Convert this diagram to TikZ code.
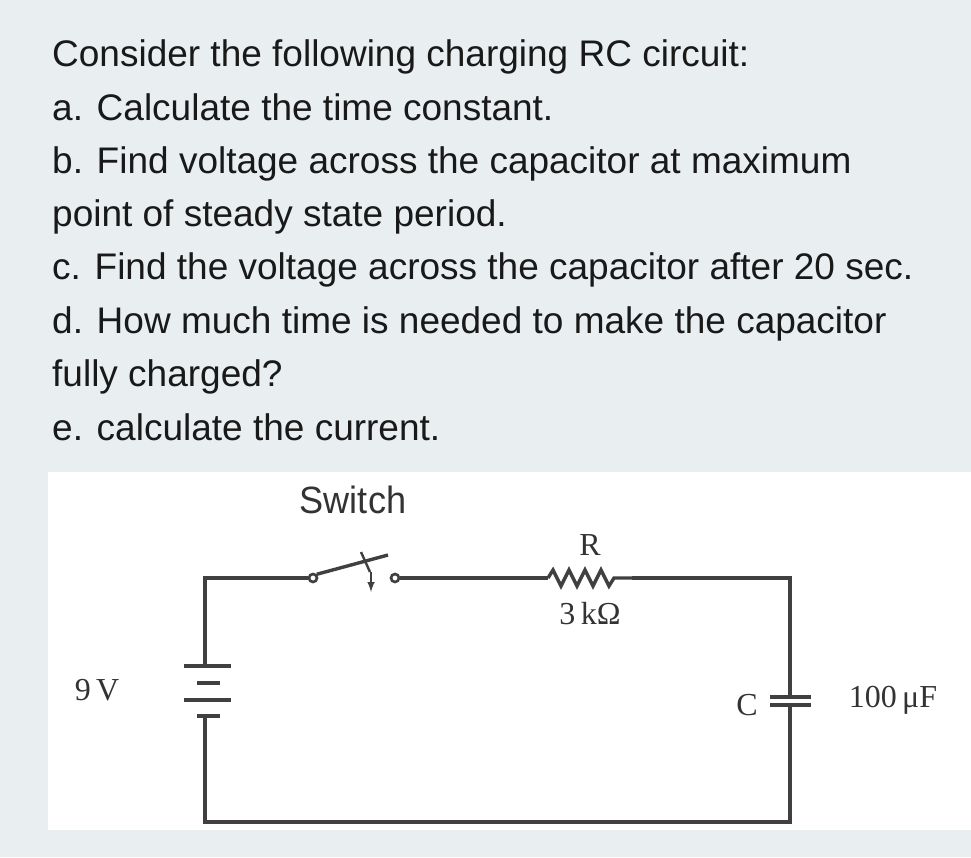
\documentclass[tikz,border=0pt]{standalone}
\usepackage{fontspec}
\setmainfont{Liberation Sans}
\newfontfamily\serifx{Liberation Serif}
\definecolor{bgc}{HTML}{E9EFF1}
\begin{document}
\begin{tikzpicture}[x=1pt,y=-1pt,
  q/.style={anchor=base west,inner sep=0,font=\fontsize{37}{37}\selectfont,text=black!90},
  w/.style={line width=3.4pt,black!75},
  lab/.style={inner sep=0,font=\serifx\fontsize{32}{32}\selectfont,text=black!80}]
\useasboundingbox (0,0) rectangle (971,857);
\fill[bgc] (0,0) rectangle (971,857);
\fill[white] (48,472) rectangle (971,830);
\node[q] (l1) at (52,66) {Consider the following charging RC circuit:};
\node[q] (l2) at (52,120) {a. Calculate the time constant.};
\node[q] (l3) at (52,173) {b. Find voltage across the capacitor at maximum};
\node[q] (l4) at (52,226) {point of steady state period.};
\node[q] (l5) at (52,279) {c. Find the voltage across the capacitor after 20 sec.};
\node[q] (l6) at (52,333) {d. How much time is needed to make the capacitor};
\node[q] (l7) at (52,386) {fully charged?};
\node[q] (l8) at (52,440) {e. calculate the current.};
% circuit
\node[inner sep=0,font=\fontsize{38}{38}\selectfont,xscale=0.95,text=black!80] (sw) at (353,500) {Switch};
\coordinate (tl) at (205,578);
\coordinate (tr) at (790,578);
\coordinate (bl) at (205,822);
\coordinate (br) at (790,822);
\node[circle,draw=black!75,line width=2.6pt,inner sep=0,minimum size=8] (s1) at (313,578) {};
\node[circle,draw=black!75,line width=2.6pt,inner sep=0,minimum size=8] (s2) at (395,578) {};
\coordinate (b1) at (205,666);
\coordinate (b4) at (205,716);
\coordinate (c1) at (790,697);
\coordinate (c2) at (790,705);
\coordinate (r1) at (548,578);
\coordinate (r2) at (632,578);
\draw[w] (b1) -- (tl) -- (s1);
\draw[w] (s2) -- (r1);
\draw[w] (r1) -- (553,570) -- (561,586) -- (569,570) -- (577,586) -- (585,570) -- (593,586) -- (601,570) -- (609,586) -- (614,578) -- (r2);
\draw[w] (r2) -- (tr) -- (c1);
\draw[w] (c2) -- (br) -- (bl) -- (b4);
\draw[w] (s1.north east) -- (388,555);
\draw[w,line width=2.4pt] (361,552) -- (370,572);
\draw[black!75,line width=2.4pt,-latex] (371,572) -- (371,592);
% battery
\draw[w] (184,666) -- (231,666);
\draw[w] (197,683) -- (220,683);
\draw[w] (184,700) -- (231,700);
\draw[w] (197,716) -- (220,716);
% capacitor
\draw[w] (770,697) -- (811,697);
\draw[w] (770,705) -- (811,705);
\node[lab] (r) at (590,545) {R};
\node[lab] (rv) at (590,614) {3\,kΩ};
\node[lab] (v) at (97,690) {9\,V};
\node[lab] (c) at (747,705) {C};
\node[lab] (cv) at (893,700) {100\,μF};
\end{tikzpicture}
\end{document}
